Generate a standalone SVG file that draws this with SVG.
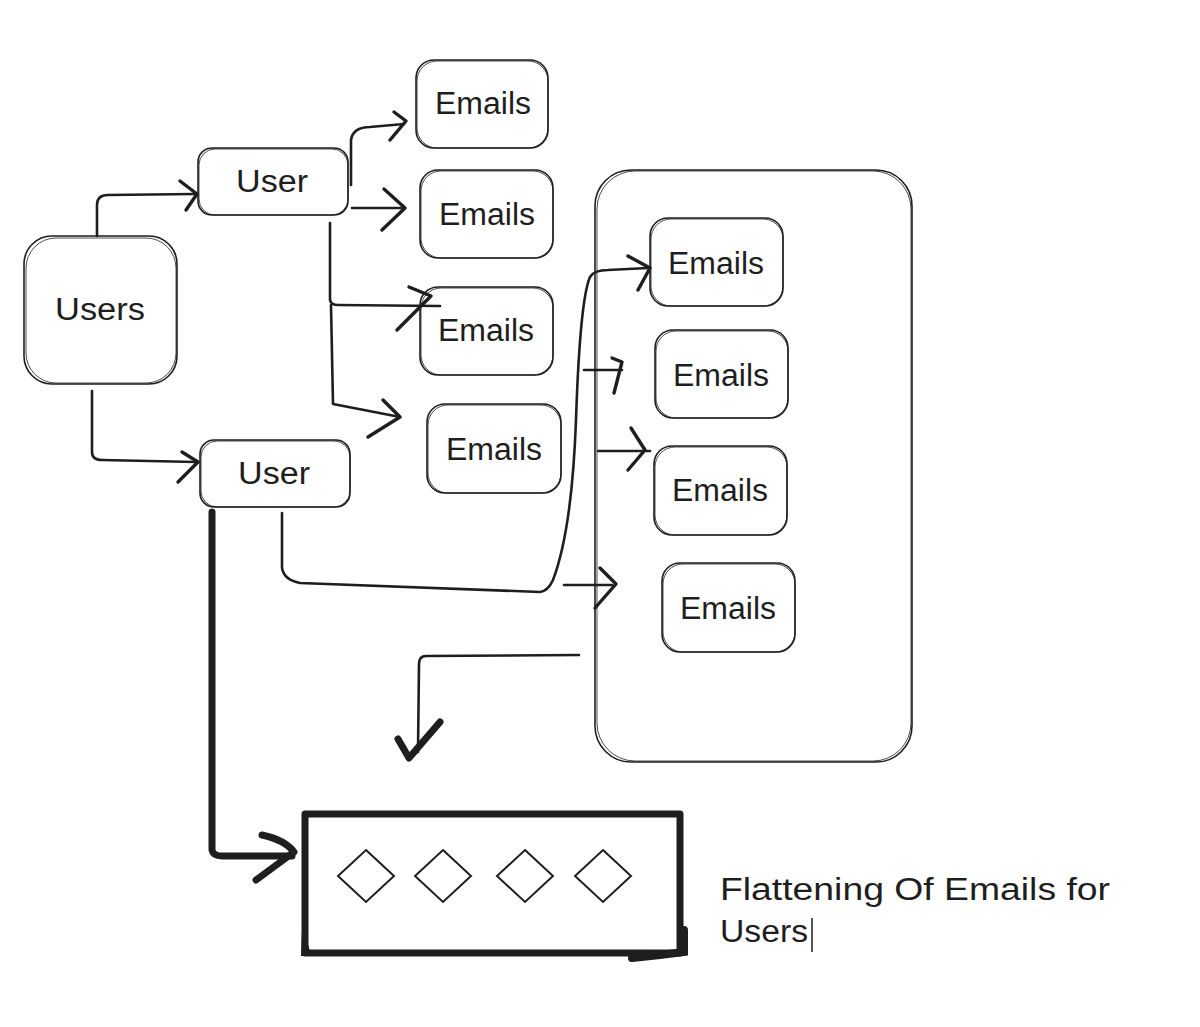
<svg xmlns="http://www.w3.org/2000/svg" width="1200" height="1027" viewBox="0 0 1200 1027">
<style>
.box{fill:none;stroke:#1e1e1e;stroke-width:1.6}
.box2{fill:none;stroke:#1e1e1e;stroke-width:0.8}
.lbl{font-family:"Liberation Sans",Arial,sans-serif;font-size:31px;fill:#1e1e1e;text-anchor:middle}
.note{font-family:"Liberation Sans",Arial,sans-serif;font-size:31px;fill:#1e1e1e}
.ln{fill:none;stroke:#1e1e1e;stroke-width:2.6;stroke-linecap:round;stroke-linejoin:round}
.hd{fill:none;stroke:#1e1e1e;stroke-width:3.4;stroke-linecap:round;stroke-linejoin:round}
.bold{fill:none;stroke:#1e1e1e;stroke-width:7;stroke-linecap:round;stroke-linejoin:round}
.dm{fill:none;stroke:#1e1e1e;stroke-width:2}
</style>
<rect width="1200" height="1027" fill="#ffffff"/>

<g id="users">
<rect class="box" x="24" y="236" width="153" height="148" rx="28"/>
<rect class="box2" x="26" y="238" width="150" height="145" rx="30"/>
<text class="lbl" x="100" y="320" textLength="90" lengthAdjust="spacingAndGlyphs">Users</text>
</g>
<g id="user-top">
<rect class="box" x="198" y="148" width="150" height="67" rx="14"/>
<rect class="box2" x="199" y="149" width="149" height="66" rx="16"/>
<text class="lbl" x="272" y="192" textLength="72" lengthAdjust="spacingAndGlyphs">User</text>
</g>
<g id="user-bottom">
<rect class="box" x="200" y="440" width="150" height="67" rx="14"/>
<rect class="box2" x="201" y="441" width="149" height="66" rx="16"/>
<text class="lbl" x="274" y="484" textLength="72" lengthAdjust="spacingAndGlyphs">User</text>
</g>
<g id="emails-1">
<rect class="box" x="416" y="60" width="132" height="88" rx="18"/>
<rect class="box2" x="417" y="61" width="131" height="87" rx="20"/>
<text class="lbl" x="483" y="114" textLength="96" lengthAdjust="spacingAndGlyphs">Emails</text>
</g>
<g id="emails-2">
<rect class="box" x="420" y="170" width="133" height="88" rx="18"/>
<rect class="box2" x="421" y="171" width="132" height="87" rx="20"/>
<text class="lbl" x="487" y="225" textLength="96" lengthAdjust="spacingAndGlyphs">Emails</text>
</g>
<g id="emails-3">
<rect class="box" x="420" y="287" width="133" height="88" rx="18"/>
<rect class="box2" x="421" y="288" width="132" height="87" rx="20"/>
<text class="lbl" x="486" y="341" textLength="96" lengthAdjust="spacingAndGlyphs">Emails</text>
</g>
<g id="emails-4">
<rect class="box" x="427" y="404" width="134" height="89" rx="18"/>
<rect class="box2" x="428" y="405" width="133" height="88" rx="20"/>
<text class="lbl" x="494" y="460" textLength="96" lengthAdjust="spacingAndGlyphs">Emails</text>
</g>
<g id="container">
<rect class="box" x="595" y="170" width="317" height="592" rx="36"/>
<rect class="box2" x="597" y="171" width="314" height="590" rx="38"/>
</g>
<g id="inner-emails-1">
<rect class="box" x="650" y="218" width="133" height="88" rx="18"/>
<rect class="box2" x="651" y="219" width="132" height="87" rx="20"/>
<text class="lbl" x="716" y="274" textLength="96" lengthAdjust="spacingAndGlyphs">Emails</text>
</g>
<g id="inner-emails-2">
<rect class="box" x="655" y="330" width="133" height="88" rx="18"/>
<rect class="box2" x="656" y="331" width="132" height="87" rx="20"/>
<text class="lbl" x="721" y="386" textLength="96" lengthAdjust="spacingAndGlyphs">Emails</text>
</g>
<g id="inner-emails-3">
<rect class="box" x="654" y="446" width="133" height="89" rx="18"/>
<rect class="box2" x="655" y="447" width="132" height="88" rx="20"/>
<text class="lbl" x="720" y="501" textLength="96" lengthAdjust="spacingAndGlyphs">Emails</text>
</g>
<g id="inner-emails-4">
<rect class="box" x="662" y="563" width="133" height="89" rx="18"/>
<rect class="box2" x="663" y="564" width="132" height="88" rx="20"/>
<text class="lbl" x="728" y="619" textLength="96" lengthAdjust="spacingAndGlyphs">Emails</text>
</g>
<g id="flattened">
<rect x="305" y="814" width="375" height="139" fill="none" stroke="#1e1e1e" stroke-width="7" stroke-linejoin="round"/>
<path d="M632,958 L660,955 L684,952 L684,930" fill="none" stroke="#1e1e1e" stroke-width="8" stroke-linecap="round"/>
<path d="M303,930 L302,955 L310,955 Z" fill="#1e1e1e" stroke="#1e1e1e" stroke-width="2"/>
<path class="dm" d="M366,850 L394,876 L366,902 L338,876 Z"/>
<path class="dm" d="M443,850 L471,876 L443,902 L415,876 Z"/>
<path class="dm" d="M525,850 L553,876 L525,902 L497,876 Z"/>
<path class="dm" d="M603,850 L631,876 L603,902 L575,876 Z"/>
</g>
<g id="caption">
<text class="note" x="720" y="900" textLength="390" lengthAdjust="spacingAndGlyphs">Flattening Of Emails for</text>
<text class="note" x="720" y="942" textLength="88" lengthAdjust="spacingAndGlyphs">Users</text>
<line x1="812" y1="918" x2="812" y2="952" stroke="#1e1e1e" stroke-width="1.5"/>
</g>

<g id="connectors">
<path class="ln" d="M97,236 L97,205 Q97,195 108,195 L195,194"/>
<path class="hd" d="M180,181 L197,194 L186,210"/>
<path class="ln" d="M92,391 L92,452 Q92,460 102,460 L196,462"/>
<path class="hd" d="M182,452 L198,462 L178,482"/>
<path class="ln" d="M351,185 L351,140 Q353,127 370,127 L404,124"/>
<path class="hd" d="M394,112 L406,121 L390,140"/>
<path class="ln" d="M352,208 L405,208"/>
<path class="hd" d="M384,189 L405,208 L382,230"/>
<path class="ln" d="M330,223 L330,300 Q331,305 338,305 L440,306"/>
<path class="hd" d="M409,287 L431,296 L397,330"/>
<path class="ln" d="M331,305 L333,404 L400,417"/>
<path class="hd" d="M383,400 L400,417 L368,437"/>
<path class="ln" d="M282,513 L282,568 Q284,580 300,583 L540,592 Q548,591 553,580 Q572,530 576,420 Q580,300 590,277 Q594,270 608,270 L648,268"/>
<path class="hd" d="M628,256 L650,268 L638,290"/>
<path class="ln" d="M584,370 L622,370"/>
<path class="hd" d="M612,358 L622,362 L614,393"/>
<path class="ln" d="M598,451 L650,451"/>
<path class="hd" d="M631,428 L645,450 L628,470"/>
<path class="ln" d="M564,585 L612,585"/>
<path class="hd" d="M600,568 L616,584 L595,608"/>
<path class="ln" d="M579,655 L426,656 Q419,656 419,664 L418,752"/>
<path class="bold" d="M398,739 L409,758 L440,722"/>
<path class="bold" d="M212,512 L212,850 Q213,856 222,856 L292,856"/>
<path class="bold" d="M262,835 Q285,840 294,852 L256,880"/>
</g>
</svg>
